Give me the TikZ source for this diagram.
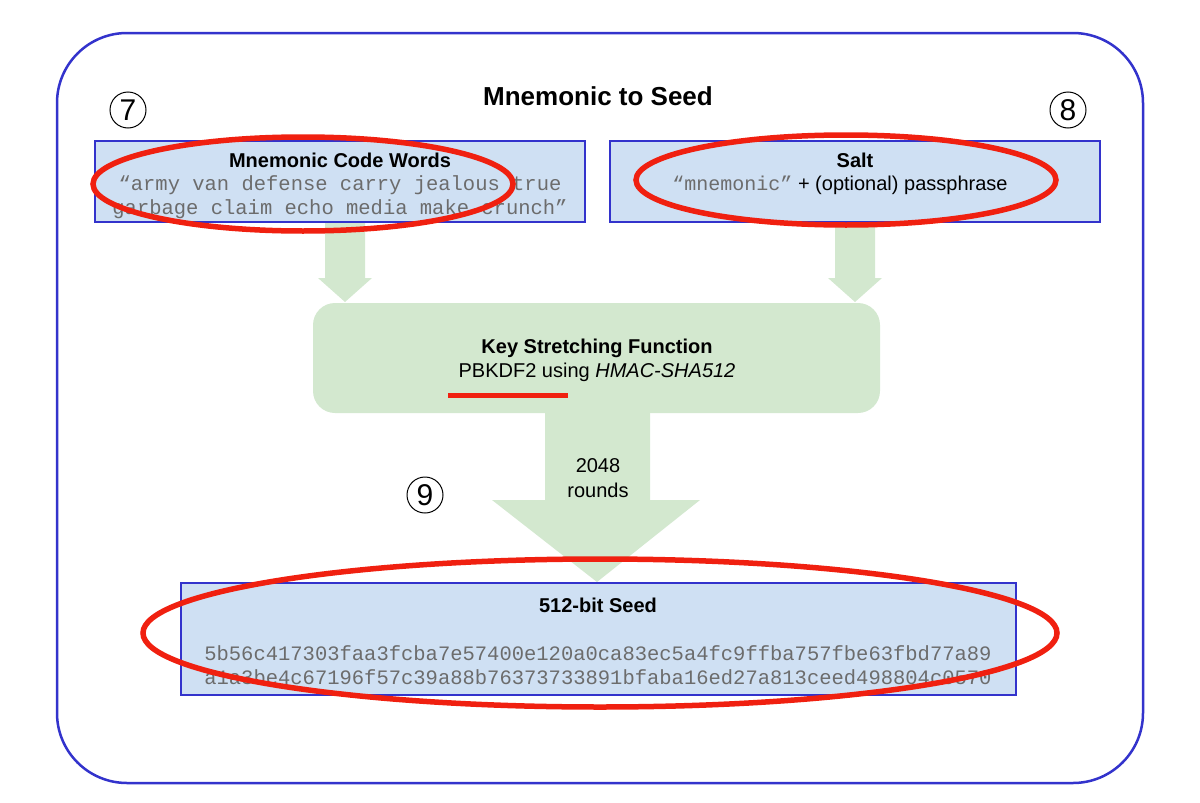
\documentclass[tikz,border=0pt]{standalone}
\usepackage{fontspec}
\setmainfont{Liberation Sans}
\setmonofont{Liberation Mono}
\begin{document}
\begin{tikzpicture}[x=1pt,y=-1pt,
  box/.style={draw=blueB,line width=2pt,fill=boxF},
  arr/.style={fill=grn,draw=none},
  red/.style={draw=redE,line width=5.5pt},
  num/.style={circle,draw,line width=1pt,inner sep=0pt,minimum size=36pt,font=\fontsize{30}{32}\selectfont},
  ttl/.style={font=\fontsize{20}{22}\selectfont\bfseries},
  mono/.style={font=\fontsize{20.5}{24}\ttfamily,text=gray!85!black},
  txt/.style={font=\fontsize{20}{22}\selectfont}]
\definecolor{blueB}{HTML}{3333CC}
\definecolor{boxF}{HTML}{CFE0F3}
\definecolor{grn}{HTML}{D3E8CF}
\definecolor{redE}{HTML}{F02010}
\useasboundingbox (0,0) rectangle (1200,803);
\draw[draw=blueB,line width=2.5pt,rounded corners=70pt] (57,33) rectangle (1143,783);
\node[font=\fontsize{26}{28}\selectfont\bfseries] (title) at (598,96) {Mnemonic to Seed};
% arrows
\fill[arr] (325,222) -- (365,222) -- (365,278) -- (372,278) -- (345,302) -- (318,278) -- (325,278) -- cycle;
\fill[arr] (835,222) -- (875,222) -- (875,278) -- (882,278) -- (855,302) -- (828,278) -- (835,278) -- cycle;
\fill[arr] (545,410) -- (650,410) -- (650,500) -- (700,500) -- (597,582) -- (492,500) -- (545,500) -- cycle;
% boxes
\draw[box] (95,141) rectangle (585,222);
\draw[box] (610,141) rectangle (1100,222);
\fill[grn,rounded corners=22pt] (313,303) rectangle (880,413);
\draw[box] (181,583) rectangle (1016,695);
\node[ttl] (t1) at (340,160) {Mnemonic Code Words};
\node[mono] (m1) at (340,185) {“army van defense carry jealous true};
\node[mono] (m2) at (340,209) {garbage claim echo media make crunch”};
\node[ttl] (t2) at (855,160) {Salt};
\node[txt] (s2) at (840,185) {{\ttfamily\color{gray!85!black}“mnemonic”} + (optional) passphrase};
\node[ttl] (t3) at (597,348) {Key Stretching Function};
\node[txt] (k2) at (597,372) {PBKDF2 using \textit{HMAC-SHA512}};
\node[txt] (r1) at (598,466) {2048};
\node[txt] (r2) at (598,490) {rounds};
\node[ttl] (t4) at (598,605) {512-bit Seed};
\node[mono] (h1) at (598,653) {5b56c417303faa3fcba7e57400e120a0ca83ec5a4fc9ffba757fbe63fbd77a89};
\node[mono] (h2) at (598,677) {a1a3be4c67196f57c39a88b76373733891bfaba16ed27a813ceed498804c0570};
% circled numbers
\node[num] (n7) at (128,110) {7};
\node[num] (n8) at (1068,110) {8};
\node[num] (n9) at (425,495) {9};
% red marks
\draw[red] (303,184) ellipse[x radius=210,y radius=47];
\draw[red] (846,180) ellipse[x radius=210,y radius=45];
\draw[red] (600,633) ellipse[x radius=457,y radius=74];
\draw[redE,line width=5pt] (448,395) -- (568,395);
\end{tikzpicture}
\end{document}
